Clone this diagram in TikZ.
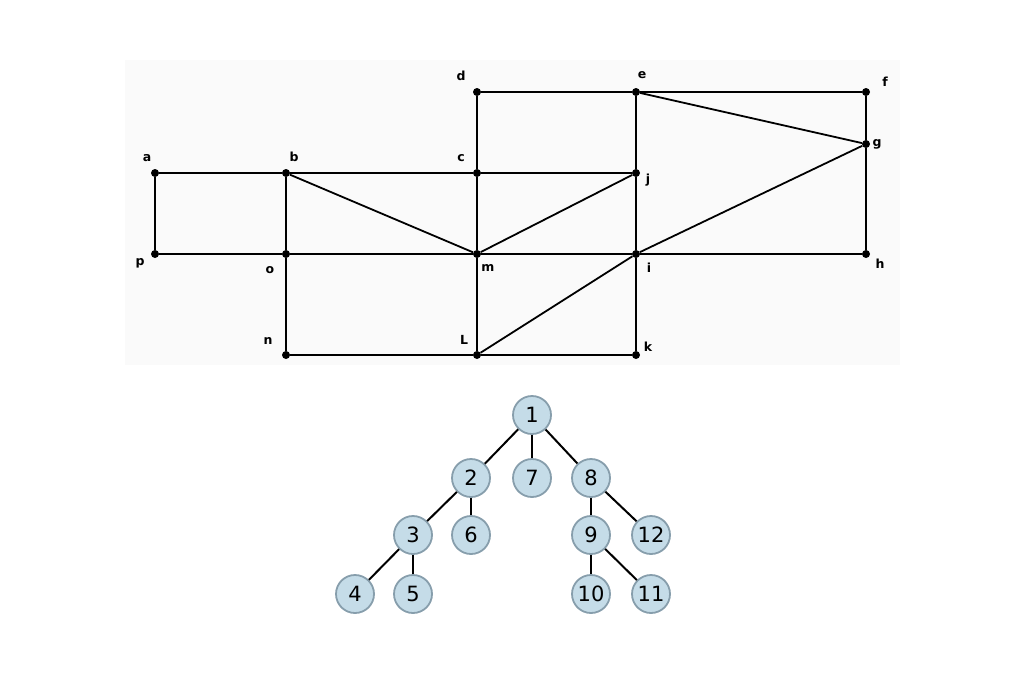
\documentclass[tikz,border=0pt]{standalone}
\usepackage{fontspec}
\setmainfont{DejaVu Sans}
\definecolor{tfill}{RGB}{197,220,232}
\definecolor{tdraw}{RGB}{135,158,172}
\begin{document}
\begin{tikzpicture}[x=1pt,y=-1pt,
 v/.style={circle,fill=black,inner sep=0pt,minimum size=8pt},
 lab/.style={font=\bfseries\fontsize{12.5}{14}\selectfont},
 e/.style={line width=1.8pt},
 tn/.style={circle,fill=tfill,draw=tdraw,line width=1.8pt,minimum size=38pt,inner sep=0pt,font=\fontsize{21}{23}\selectfont},
 te/.style={line width=2pt}]
\useasboundingbox (0,0) rectangle (1024,672);
\fill[black!2] (125,60) rectangle (900,365);
\foreach \n/\x/\y in {a/155/173,b/286/173,c/477/173,d/477/92,e/636/92,f/866/92,g/866/144,j/636/173,p/155/254,o/286/254,m/477/254,i/636/254,h/866/254,n/286/355,L/477/355,k/636/355}
  \node[v] (\n) at (\x,\y) {};
\foreach \u/\w in {a/b,b/c,c/j,a/p,p/o,o/m,m/i,i/h,b/o,o/n,n/L,L/k,b/m,c/m,m/L,m/j,d/c,d/e,e/f,e/j,j/i,i/k,e/g,f/g,g/h,g/i,L/i}
  \draw[e] (\u) -- (\w);
\foreach \n/\t/\x/\y in {la/a/147/158,lb/b/294/157,lc/c/461/158,ld/d/461/76,le/e/642/75,lf/f/885/82,lg/g/877/144,lj/j/648/180,lp/p/140/263,lo/o/270/270,lm/m/488/268,li/i/649/268,lh/h/880/264,ln/n/268/341,lL/L/464/340,lk/k/648/347}
  \node[lab] (\n) at (\x,\y) {\t};
\foreach \n/\x/\y in {1/532/415,2/471/478,7/532/478,8/591/478,3/413/535,6/471/535,9/591/535,12/651/535,4/355/594,5/413/594,10/591/594,11/651/594}
  \node[tn] (t\n) at (\x,\y) {\n};
\foreach \u/\w in {1/2,1/7,1/8,2/3,2/6,3/4,3/5,8/9,8/12,9/10,9/11}
  \draw[te] (t\u) -- (t\w);
\end{tikzpicture}
\end{document}
